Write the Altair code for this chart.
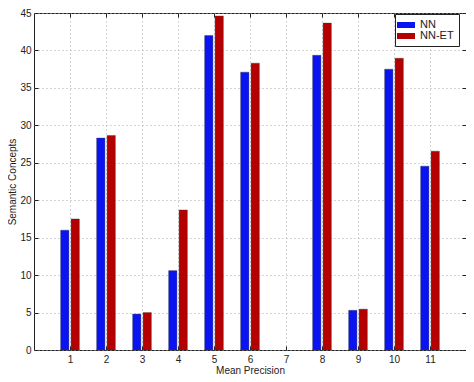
import altair as alt
import pandas as pd

categories = list(range(1, 12))
nn = [16.0, 28.3, 4.8, 10.6, 42.0, 37.1, 0, 39.35, 5.3, 37.5, 24.55]
nn_et = [17.5, 28.65, 5.0, 18.7, 44.6, 38.3, 0, 43.65, 5.45, 38.95, 26.55]
series_names = ["NN", "NN-ET"]
series_colors = ["#0a14f0", "#b40000"]
x_ticks = list(range(1, 12))
y_ticks = list(range(0, 50, 5))

rows = []
for c, a, b in zip(categories, nn, nn_et):
    rows.append({"cat": c, "series": series_names[0], "value": a})
    rows.append({"cat": c, "series": series_names[1], "value": b})
df = pd.DataFrame(rows)

font = "Liberation Sans"
xscale = alt.Scale(domain=[0, 12], nice=False, zero=False)
yscale = alt.Scale(domain=[0, 45], nice=False)

base = alt.Chart(df).transform_filter("datum.value > 0").transform_calculate(
    x0="datum.cat + (datum.series == 'NN' ? -0.26 : 0.03)",
    x1="datum.cat + (datum.series == 'NN' ? -0.03 : 0.26)",
    y0="0",
)

bars = base.mark_bar(stroke="#333333", strokeWidth=0.6, strokeOpacity=0.6).encode(
    x=alt.X(
        "x0:Q",
        scale=xscale,
        axis=alt.Axis(
            values=x_ticks, title="Mean Precision", orient="bottom", offset=-4,
            tickSize=4, tickColor="#222222", domain=False, labelPadding=4,
            titlePadding=1, grid=True, gridDash=[1, 3], gridColor="#aaaaaa",
        ),
    ),
    x2="x1:Q",
    y=alt.Y(
        "value:Q",
        scale=yscale,
        axis=alt.Axis(
            values=y_ticks, title="Semantic Concepts", orient="left", offset=-4,
            tickSize=4, tickColor="#222222", domain=False, labelPadding=3,
            titlePadding=2, grid=True, gridDash=[1, 3], gridColor="#aaaaaa",
        ),
    ),
    y2="y0:Q",
    color=alt.Color(
        "series:N",
        scale=alt.Scale(domain=series_names, range=series_colors),
        legend=alt.Legend(
            title=None, orient="none", legendX=361, legendY=1,
            strokeColor="#222222", fillColor="white", padding=5,
            symbolType="M-1.5,-0.5L1.5,-0.5L1.5,0.5L-1.5,0.5Z", symbolSize=144,
            symbolStrokeWidth=0, labelFontSize=11, labelFont=font,
            labelOffset=8, rowPadding=0, labelColor="#222222",
        ),
    ),
)

ticks2 = alt.Chart(df).mark_point(opacity=0).encode(
    x=alt.X("cat:Q", scale=xscale, axis=alt.Axis(
        orient="top", values=x_ticks, labels=False, title=None, grid=False,
        domain=False, offset=-4, tickSize=4, tickColor="#222222")),
    y=alt.Y("value:Q", scale=yscale, axis=alt.Axis(
        orient="right", values=y_ticks, labels=False, title=None, grid=False,
        domain=False, offset=-4, tickSize=4, tickColor="#222222")),
)

chart = alt.layer(bars, ticks2).resolve_axis(
    x="independent", y="independent"
).properties(
    width=432, height=337,
    autosize=alt.AutoSizeParams(type="none"),
    padding={"left": 26, "top": 5, "right": 0, "bottom": 24},
    background="white",
).configure_view(
    stroke="#222222", strokeWidth=1
).configure_axis(
    labelFont=font, titleFont=font, labelFontSize=10, titleFontSize=10,
    titleFontWeight="normal", labelColor="#222222", titleColor="#222222",
)

chart.save("out.html", embed_options={"renderer": "svg", "actions": False})
